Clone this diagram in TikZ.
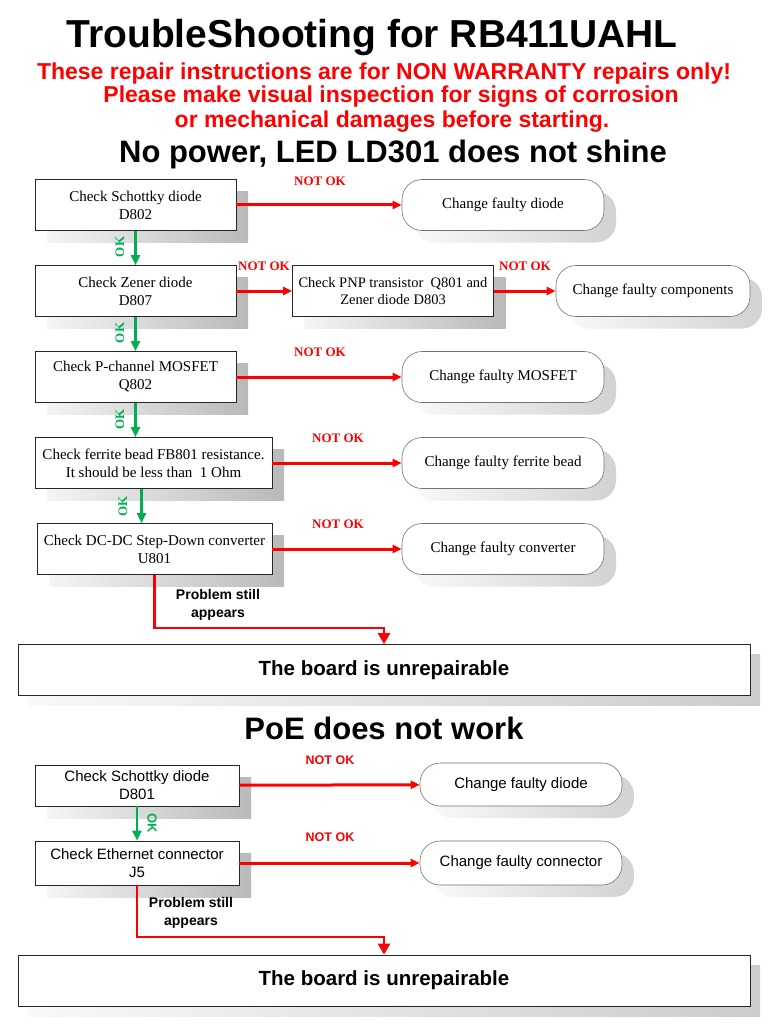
\documentclass[tikz,border=0pt]{standalone}
\usepackage{fontspec}
\setmainfont{Liberation Serif}
\newfontfamily\arial{Liberation Sans}
\usetikzlibrary{shadows, arrows.meta}
\definecolor{okgreen}{RGB}{0,176,80}
\tikzset{
  boxshadow/.style={general shadow={shadow xshift=12pt, shadow yshift=-12pt, left color=gray!8, right color=gray!55}},
  chk/.style={draw=black!85, fill=white, line width=0.8pt, align=center, inner sep=1pt,
    minimum width=201pt, minimum height=51pt, font=\fontsize{15}{18}\selectfont, boxshadow},
  fix/.style={draw=black!55, fill=white, line width=0.6pt, rounded corners=20pt, align=center,
    minimum width=202pt, minimum height=51pt, font=\fontsize{15}{18}\selectfont,
    general shadow={shadow xshift=12pt, shadow yshift=-12pt, left color=gray!5, right color=gray!35}},
  dead/.style={draw=black!85, fill=white, line width=0.8pt, minimum width=732pt, minimum height=51pt,
    font=\arial\bfseries\fontsize{20.5}{24}\selectfont,
    general shadow={shadow xshift=10pt, shadow yshift=-10pt, left color=gray!5, right color=gray!40}},
  nok/.style={draw=red, line width=3pt, -{Triangle[length=9pt,width=8pt]}},
  ok/.style={draw=okgreen, line width=2.6pt, -{Triangle[length=10pt,width=9pt]}},
  fail/.style={draw=red, line width=2.4pt, -{Triangle[length=11pt,width=12pt]}},
  nokl/.style={text=red, font=\bfseries\fontsize{13}{15}\selectfont},
  okl/.style={text=okgreen, rotate=90, font=\bfseries\fontsize{13}{15}\selectfont},
  head/.style={font=\arial\bfseries\fontsize{31}{34}\selectfont},
  warn/.style={text=red, font=\arial\bfseries\fontsize{23}{26}\selectfont},
  still/.style={align=center, font=\arial\bfseries\fontsize{14}{18}\selectfont},
  poetext/.style={font=\arial\fontsize{15}{18}\selectfont}
}
\begin{document}
\begin{tikzpicture}[x=1pt, y=-1pt]
    \useasboundingbox[fill=white] (0,0) rectangle (768,1024);
    % headings
    \node[font=\arial\bfseries\fontsize{39}{42}\selectfont] (title) at (372,38) {TroubleShooting for RB411UAHL};
    \node[warn] (warn1) at (384,74) {These repair instructions are for NON WARRANTY repairs only!};
    \node[warn] (warn2) at (391,97) {Please make visual inspection for signs of corrosion};
    \node[warn] (warn3) at (392,122) {or mechanical damages before starting.};
    \node[head] (power) at (393,154) {No power, LED LD301 does not shine};
    % no power chain
    \node[chk] (d802) at (135.5,205) {Check Schottky diode\\D802};
    \node[chk] (d807) at (135.5,291) {Check Zener diode\\D807};
    \node[chk] (q802) at (135.5,377) {Check P-channel MOSFET\\Q802};
    \node[chk, minimum width=237pt] (fb801) at (153.5,463) {Check ferrite bead FB801 resistance.\\It should be less than~~1 Ohm};
    \node[chk, minimum width=235pt] (u801) at (154.5,549) {Check DC-DC Step-Down converter\\U801};
    \node[chk, font=\fontsize{14.5}{17}\selectfont] (q801) at (393,291) {Check PNP transistor~~Q801 and\\Zener diode D803};
    \node[fix] (newdiode) at (503,205) {Change faulty diode};
    \node[fix, minimum width=194pt] (newparts) at (653,291) {Change faulty components};
    \node[fix] (newfet) at (503,377) {Change faulty MOSFET};
    \node[fix] (newbead) at (503,463) {Change faulty ferrite bead};
    \node[fix] (newconv) at (503,549) {Change faulty converter};
    \node[dead] (dead1) at (384,670) {The board is unrepairable};
    \draw[nok] (d802) -- (newdiode);
    \draw[nok] (d807) -- (q801);
    \draw[nok] (q801) -- (newparts);
    \draw[nok] (q802) -- (newfet);
    \draw[nok] (fb801) -- (newbead);
    \draw[nok] (u801) -- (newconv);
    \node[nokl] at (320,181) {NOT OK};
    \node[nokl] at (264,266) {NOT OK};
    \node[nokl] at (525,266) {NOT OK};
    \node[nokl] at (320,352) {NOT OK};
    \node[nokl] at (338,438) {NOT OK};
    \node[nokl] at (338,524) {NOT OK};
    \draw[ok] (d802) -- (d807);
    \draw[ok] (d807) -- (q802);
    \draw[ok] (q802.south) -- (q802.south |- fb801.north);
    \draw[ok] ([xshift=-12pt]fb801.south) -- ([xshift=-12pt]fb801.south |- u801.north);
    \node[okl] at (120,247) {OK};
    \node[okl] at (120,333) {OK};
    \node[okl] at (120,419) {OK};
    \node[okl] at (123,506) {OK};
    \coordinate (bend1) at (384,628);
    \draw[fail] (u801.south) |- (bend1) -- (dead1.north);
    \node[still] at (218,605) {Problem still\\appears};
    % PoE chain
    \node[head] (poe) at (384,728) {PoE does not work};
    \node[chk, poetext, minimum width=204pt, minimum height=41pt] (d801) at (137,785.5) {Check Schottky diode\\D801};
    \node[chk, poetext, minimum width=204pt, minimum height=44pt] (j5) at (137,863) {Check Ethernet connector\\J5};
    \node[fix, poetext, minimum height=43pt] (newd801) at (521,784.5) {Change faulty diode};
    \node[fix, poetext, minimum height=44pt] (newj5) at (521,863) {Change faulty connector};
    \node[dead] (dead2) at (384,980.5) {The board is unrepairable};
    \draw[nok] (d801) -- (newd801);
    \draw[nok] (j5) -- (newj5);
    \node[nokl, font=\arial\bfseries\fontsize{12.5}{14}\selectfont] at (330,760) {NOT OK};
    \node[nokl, font=\arial\bfseries\fontsize{12.5}{14}\selectfont] at (330,837) {NOT OK};
    \draw[ok] (d801) -- (j5);
    \node[okl, rotate=180, font=\arial\bfseries\fontsize{13}{15}\selectfont] at (152,823) {OK};
    \coordinate (bend2) at (384,937);
    \draw[fail] (j5.south) |- (bend2) -- (dead2.north);
    \node[still] at (191,913) {Problem still\\appears};
\end{tikzpicture}
\end{document}
